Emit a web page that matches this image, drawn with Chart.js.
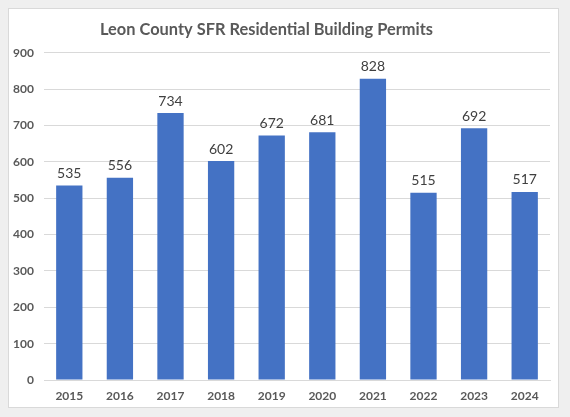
<!DOCTYPE html>
<html>
<head>
<meta charset="utf-8">
<script src="https://cdn.jsdelivr.net/npm/chart.js@4.4.1/dist/chart.umd.min.js"></script>
<style>
  html, body { margin: 0; padding: 0; background: #efefef; width: 570px; height: 417px; overflow: hidden; }
  #box { position: absolute; left: 8px; top: 8px; width: 549px; height: 398px; background: #ffffff; border: 1px solid #d9d9d9; }
  #box canvas { display: block; }
</style>
</head>
<body>
<div id="box"><canvas id="c" width="549" height="398"></canvas></div>
<script>
const categories = ["2015", "2016", "2017", "2018", "2019", "2020", "2021", "2022", "2023", "2024"];
const permits = [535, 556, 734, 602, 672, 681, 828, 515, 692, 517];
const yTicks = [0, 100, 200, 300, 400, 500, 600, 700, 800, 900];
const titleText = "Leon County SFR Residential Building Permits";

const FONT = "Lato, 'Open Sans', sans-serif";

const valueLabels = {
  id: 'valueLabels',
  afterDatasetsDraw(chart) {
    const ctx = chart.ctx;
    const meta = chart.getDatasetMeta(0);
    ctx.save();
    ctx.font = "14px " + FONT;
    ctx.fillStyle = "#404040";
    ctx.textAlign = "center";
    ctx.textBaseline = "bottom";
    meta.data.forEach((bar, i) => {
      ctx.fillText(String(chart.data.datasets[0].data[i]), bar.x, bar.y - 5);
    });
    ctx.restore();
  }
};

// The reference title sits slightly left of centre
const titleShift = {
  id: 'titleShift',
  afterLayout(chart) {
    if (chart.titleBlock) { chart.titleBlock.right -= 26; }
  }
};

new Chart(document.getElementById('c'), {
  type: 'bar',
  data: {
    labels: categories,
    datasets: [{
      data: permits,
      backgroundColor: '#4472C4',
      borderWidth: 0,
      barPercentage: 0.52,
      categoryPercentage: 1.0
    }]
  },
  options: {
    responsive: false,
    animation: false,
    layout: { padding: { left: 0, right: 8, top: 0, bottom: 0 } },
    plugins: {
      legend: { display: false },
      tooltip: { enabled: false },
      title: {
        display: true,
        text: titleText,
        color: '#595959',
        font: { family: FONT, size: 16.4, weight: 'bold' },
        padding: { top: 11, bottom: 13 }
      }
    },
    scales: {
      x: {
        grid: { display: false, drawTicks: false },
        border: { display: true, color: '#d9d9d9', width: 1 },
        ticks: { color: '#595959', font: { family: FONT, size: 12, weight: 'bold' }, padding: 9, maxRotation: 0 },
        afterFit(scale) { scale.height = 27; }
      },
      y: {
        min: 0,
        max: 900,
        afterBuildTicks(scale) { scale.ticks = yTicks.map(v => ({ value: v })); },
        grid: { color: '#d9d9d9', drawTicks: false },
        border: { display: false },
        ticks: { color: '#595959', font: { family: FONT, size: 12, weight: 'bold' }, padding: 10 },
        afterFit(scale) { scale.width = 35; }
      }
    }
  },
  plugins: [valueLabels, titleShift]
});
</script>
</body>
</html>
